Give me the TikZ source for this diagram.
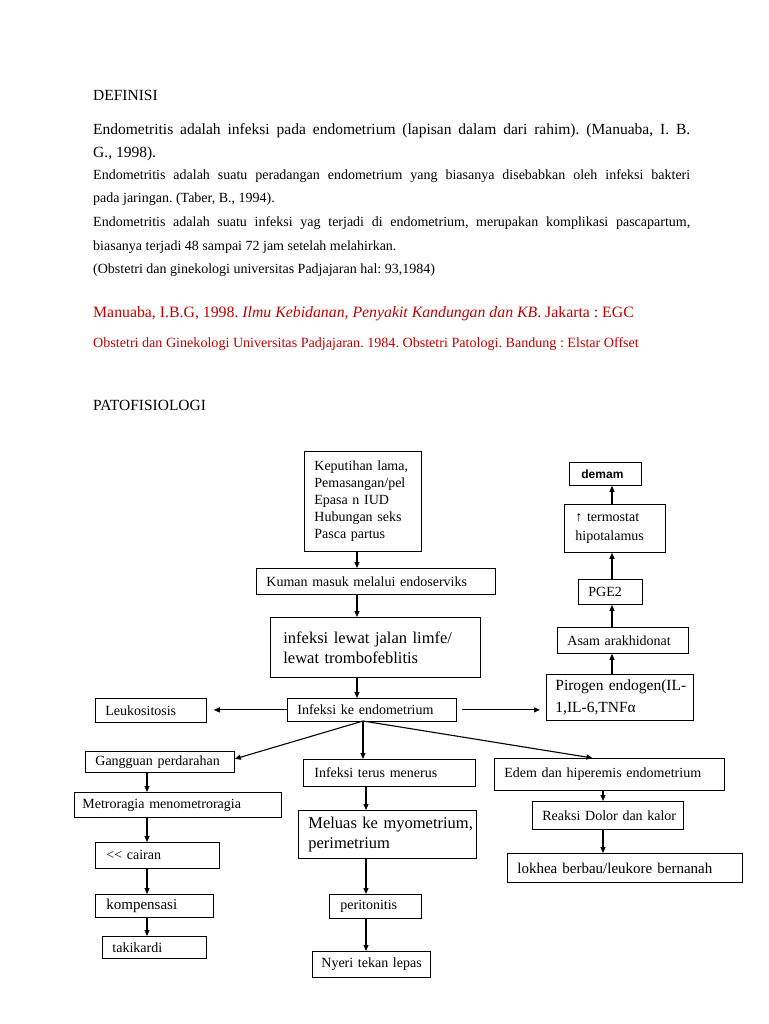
\documentclass[tikz,border=0pt]{standalone}
\usepackage{fontspec}
\setmainfont{Liberation Serif}
\setsansfont{Liberation Sans}
\usetikzlibrary{arrows.meta,calc}
\frenchspacing

\definecolor{merahref}{RGB}{192,0,0}

\tikzset{
  kotak/.style={draw, line width=0.8pt, anchor=north west, inner xsep=10pt,
    inner ysep=0pt, align=left, font=\fontsize{14}{17}\selectfont},
  panah/.style={line width=1.1pt, -{Triangle[length=6pt,width=5pt]}},
  teks/.style={anchor=base west, inner sep=0pt, font=\fontsize{14}{17}\selectfont},
}

\begin{document}
\begin{tikzpicture}[x=1pt, y=-1pt]
  \useasboundingbox (0,0) rectangle (768,1024);

  % definisi
  \node[teks, font=\fontsize{15.5}{18}\selectfont] (judul) at (93,101) {DEFINISI};
  \node[teks, font=\fontsize{15.5}{18}\selectfont] (defsatu) at (93,135)
    {\makebox[597pt][s]{Endometritis adalah infeksi pada endometrium (lapisan dalam dari rahim). (Manuaba, I. B.}};
  \node[teks, font=\fontsize{15.5}{18}\selectfont] (defsatub) at (93,158) {G., 1998).};
  \node[teks] (defdua) at (93,180)
    {\makebox[597pt][s]{Endometritis adalah suatu peradangan endometrium yang biasanya disebabkan oleh infeksi bakteri}};
  \node[teks] (defduab) at (93,203) {pada jaringan. (Taber, B., 1994).};
  \node[teks] (deftiga) at (93,226)
    {\makebox[597pt][s]{Endometritis adalah suatu infeksi yag terjadi di endometrium, merupakan komplikasi pascapartum,}};
  \node[teks] (deftigab) at (93,250) {biasanya terjadi 48 sampai 72 jam setelah melahirkan.};
  \node[teks] (deftigac) at (93,273) {(Obstetri dan ginekologi universitas Padjajaran hal: 93,1984)};

  % pustaka
  \node[teks, merahref, font=\fontsize{15.8}{19}\selectfont] (pustakasatu) at (93,317)
    {Manuaba, I.B.G, 1998. \textit{Ilmu Kebidanan, Penyakit Kandungan dan KB}. Jakarta : EGC};
  \node[teks, merahref, font=\fontsize{14.1}{17}\selectfont] (pustakadua) at (93,347)
    {Obstetri dan Ginekologi Universitas Padjajaran. 1984. Obstetri Patologi. Bandung : Elstar Offset};

  \node[teks, font=\fontsize{15.5}{18}\selectfont] (subjudul) at (93,410) {PATOFISIOLOGI};

  % alur tengah
  \node[kotak, text width=97pt, minimum height=100pt] (keputihan) at (304,451)
    {Keputihan lama,\\Pemasangan/pel\\Epasa n IUD\\Hubungan seks\\Pasca partus};
  \node[kotak, text width=219pt, minimum height=26pt] (kuman) at (256,568)
    {\mbox{Kuman masuk melalui endoserviks}};
  \node[kotak, inner xsep=13pt, text width=184pt, minimum height=60pt,
    font=\fontsize{16.5}{20}\selectfont] (lewat) at (270,617)
    {\mbox{infeksi lewat jalan limfe/}\\lewat trombofeblitis};
  \node[kotak, text width=149pt, minimum height=23pt] (endo) at (287,698)
    {\mbox{Infeksi ke endometrium}};
  \node[kotak, text width=91pt, minimum height=24pt] (leuko) at (95,698) {\mbox{Leukositosis}};

  % cabang kiri
  \node[kotak, text width=129pt, minimum height=21pt] (gangguan) at (85,751) {\mbox{Gangguan perdarahan}};
  \node[kotak, inner xsep=8pt, text width=191pt, minimum height=25pt] (metro) at (74,792)
    {\mbox{Metroragia menometroragia}};
  \node[kotak, inner xsep=11pt, text width=102pt, minimum height=26pt] (cairan) at (95,842) {\mbox{<{}< cairan}};
  \node[kotak, inner xsep=11pt, text width=96pt, minimum height=23pt,
    font=\fontsize{15}{18}\selectfont] (kompensasi) at (95,894) {\mbox{kompensasi}};
  \node[kotak, text width=84pt, minimum height=22pt] (takikardi) at (102,936) {\mbox{takikardi}};

  % cabang tengah
  \node[kotak, inner xsep=11pt, text width=150pt, minimum height=27pt] (terus) at (303,759)
    {\mbox{Infeksi terus menerus}};
  \node[kotak, text width=158pt, minimum height=48pt,
    font=\fontsize{16.5}{20}\selectfont] (meluas) at (298,810)
    {\mbox{Meluas ke myometrium,}\\perimetrium};
  \node[kotak, inner xsep=11pt, text width=70pt, minimum height=24pt] (peritonitis) at (329,894) {\mbox{peritonitis}};
  \node[kotak, inner xsep=9pt, text width=100pt, minimum height=26pt] (nyeri) at (312,951) {\mbox{Nyeri tekan lepas}};

  % cabang kanan
  \node[kotak, text width=210pt, minimum height=32pt] (edem) at (494,758)
    {\mbox{Edem dan hiperemis endometrium}};
  \node[kotak, text width=131pt, minimum height=28pt] (reaksi) at (532,801) {\mbox{Reaksi Dolor dan kalor}};
  \node[kotak, text width=215pt, minimum height=29pt,
    font=\fontsize{15}{18}\selectfont] (lokhea) at (507,853) {\mbox{lokhea berbau/leukore bernanah}};

  % demam
  \node[kotak, inner xsep=9pt, text width=129pt, minimum height=46pt,
    font=\fontsize{15.5}{22}\selectfont] (pirogen) at (546,674)
    {\mbox{Pirogen endogen(IL-}\\1,IL-6,TNFα};
  \node[kotak, text width=111pt, minimum height=26pt] (asam) at (557,627) {\mbox{Asam arakhidonat}};
  \node[kotak, text width=44pt, minimum height=25pt] (pge) at (578,579) {\mbox{PGE2}};
  \node[kotak, inner xsep=11pt, text width=79pt, minimum height=48pt,
    font=\fontsize{14}{19}\selectfont] (termostat) at (564,504)
    {\mbox{↑ termostat}\\hipotalamus};
  \node[kotak, inner xsep=12pt, text width=48pt, minimum height=23pt,
    font=\sffamily\bfseries\fontsize{12}{14}\selectfont] (demam) at (569,462) {demam};

  % sumbu panah
  \coordinate (sumbu) at (357,0);
  \coordinate (kiri) at (147,0);
  \coordinate (tengah) at (366,0);
  \coordinate (kanan) at (603,0);
  \coordinate (atas) at (612,0);
  \coordinate (cabang) at (363,721);

  \draw[panah] (sumbu |- keputihan.south) -- (sumbu |- kuman.north);
  \draw[panah] (sumbu |- kuman.south) -- (sumbu |- lewat.north);
  \draw[panah] (sumbu |- lewat.south) -- (sumbu |- endo.north);
  \draw[panah, shorten >=7pt] (endo.west) -- (endo.west -| leuko.east);
  \draw[panah, shorten <=5pt, shorten >=6pt] (endo.east) -- (endo.east -| pirogen.west);

  \draw[panah] (cabang) -- ([yshift=3pt]gangguan.east);
  \draw[panah] (cabang) -- (cabang |- terus.north);
  \draw[panah] (cabang) -- ([xshift=-17pt]edem.north);

  \foreach \a/\b in {gangguan/metro, metro/cairan, cairan/kompensasi, kompensasi/takikardi}
    \draw[panah] (kiri |- \a.south) -- (kiri |- \b.north);
  \foreach \a/\b in {terus/meluas, meluas/peritonitis, peritonitis/nyeri}
    \draw[panah] (tengah |- \a.south) -- (tengah |- \b.north);
  \foreach \a/\b in {edem/reaksi, reaksi/lokhea}
    \draw[panah] (kanan |- \a.south) -- (kanan |- \b.north);
  \foreach \a/\b in {pirogen/asam, asam/pge, pge/termostat, termostat/demam}
    \draw[panah] (atas |- \a.north) -- (atas |- \b.south);
\end{tikzpicture}
\end{document}
